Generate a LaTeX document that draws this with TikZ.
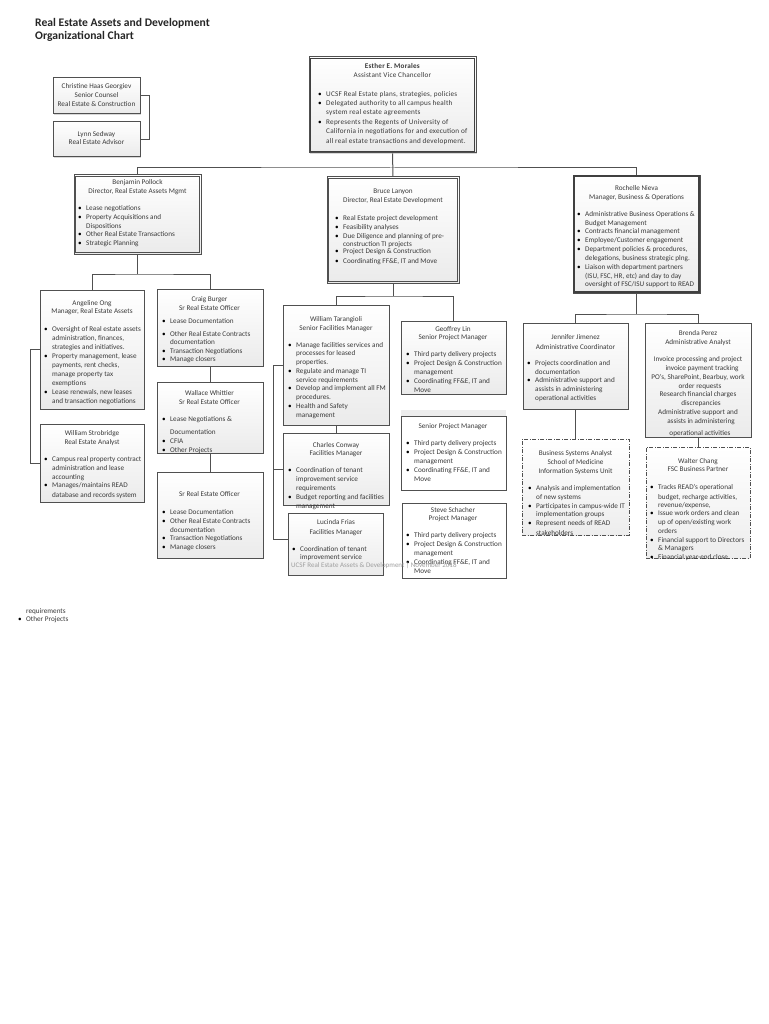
\documentclass[tikz,border=0pt]{standalone}
\usepackage{fontspec}
\setmainfont{Carlito}
\newfontfamily\widefont[LetterSpace=3]{Carlito}
\usetikzlibrary{shadows}
\definecolor{ink}{HTML}{3A3A3A}
\definecolor{edge}{HTML}{505050}
\tikzset{
  x=1pt,y=-1pt,
  orgbox/.style={draw=edge,line width=1pt,top color=white,bottom color=black!8,inner sep=0pt,
     drop shadow={shadow xshift=1pt,shadow yshift=-1pt,fill=black!25,opacity=.6}},
  paleface/.style={draw=edge,line width=1pt,fill=white,inner sep=0pt},
  innerframe/.style={draw=edge,line width=1pt},
  heavyframe/.style={draw=black!75,line width=1.7pt},
  thinbox/.style={orgbox,line width=.6pt},
  dashbox/.style={draw=edge,line width=1pt,top color=white,bottom color=black!7,inner sep=0pt,
     dash pattern=on 4pt off 1.5pt on 1pt off 1.5pt},
  conn/.style={draw=edge,line width=1pt},
  linetext/.style={inner sep=0pt,text=ink,font=\fontsize{7.2}{9}\selectfont,execute at begin node={\rule{0pt}{5pt}}},
  hdtext/.style={linetext,align=center,anchor=north},
  bodytext/.style={linetext,align=left,anchor=north west},
  titletext/.style={inner sep=0pt,anchor=north west,align=left,text=black!85,font=\fontsize{11.6}{13}\bfseries\selectfont},
  foottext/.style={inner sep=0pt,anchor=west,text=black!38,font=\fontsize{7}{8}\selectfont},
}
\newcommand\obox[6]{\node[#2,minimum width=#5-#3,minimum height=#6-#4] (#1) at ({(#3+#5)/2},{(#4+#6)/2}) {};}
\newcommand\hd[4]{\node[hdtext] (#1) at (#2,#3-3) {#4};}
\newcommand\bd[4]{\node[bodytext] (#1) at (#2,#3-3) {#4};}
\newcommand\bl{\leavevmode\llap{\textcolor{black}{\textbullet}\hspace{4.6pt}}}
\newcommand\inframe[3]{\draw[#2] ([shift={(#3,#3)}]#1.north west) rectangle ([shift={(-#3,-#3)}]#1.south east);}
\begin{document}
\begin{tikzpicture}
\useasboundingbox (0,0) rectangle (768,1024);
\fill[white] (0,0) rectangle (768,1024);
\node[titletext] (title) at (35,18) {Real Estate Assets and Development\\Organizational Chart};

% boxes
\obox{esther}{orgbox}{309}{57}{476}{153}
\inframe{esther}{heavyframe}{2}
\obox{christine}{orgbox}{53}{78}{140}{114}
\obox{lynn}{orgbox}{53}{122}{140}{157}
\obox{benjamin}{orgbox}{74}{175}{201}{254}
\inframe{benjamin}{innerframe}{2}
\obox{bruce}{orgbox}{327}{177}{459}{283}
\inframe{bruce}{innerframe}{2}
\obox{rochelle}{thinbox}{573}{175}{700}{293}
\inframe{rochelle}{heavyframe}{1.5}
\obox{angeline}{orgbox}{40}{290}{144}{409}
\obox{strobridge}{orgbox}{40}{424}{144}{502}
\obox{craig}{orgbox}{157}{289}{263}{366}
\obox{wallace}{orgbox}{157}{382}{263}{453}
\obox{srofficer}{orgbox}{157}{472}{263}{558}
\obox{tarangioli}{orgbox}{283}{305}{389}{425}
\obox{charles}{orgbox}{283}{433}{389}{505}
\obox{lucinda}{orgbox}{288}{513}{383}{575}
\obox{geoffrey}{orgbox}{401}{321}{506}{394}
\fill[black!7] (401,410) rectangle (506,416);
\obox{seniorpm}{paleface}{401}{416}{506}{490}
\obox{steve}{paleface}{402}{503}{506}{578}
\obox{jennifer}{orgbox}{523}{323}{628}{409}
\obox{brenda}{orgbox}{645}{323}{751}{437}
\obox{bsa}{dashbox}{522}{439}{629}{535}
\obox{walter}{dashbox}{646}{447}{750}{558}

% connectors
\coordinate (busmid) at (392.5,168);
\coordinate (hubb) at (137.5,274);
\coordinate (hubd) at (393,296);
\coordinate (hubr) at (636.5,314);
\draw[conn] (esther.south) -- (bruce.north);
\draw[conn] (benjamin.north) |- (busmid) -| (rochelle.north);
\draw[conn] (christine.east) -- ++(9,0) |- (lynn.east);
\draw[conn] (benjamin.south) -- (hubb);
\draw[conn] (angeline.north) |- (hubb) -| (craig.north);
\draw[conn] (craig.south) -- (wallace.north);
\draw[conn] (wallace.south) -- (srofficer.north);
\draw[conn] (angeline.west) -- ++(-9,0) |- (strobridge.west);
\draw[conn] (bruce.south) -- (hubd);
\draw[conn] (tarangioli.north) |- (hubd) -| (geoffrey.north);
\draw[conn] (tarangioli.south) -- (charles.north);
\draw[conn] (tarangioli.west) -- ++(-9,0) |- (charles.west);
\draw[conn] (tarangioli.west) ++(-9,0) |- ([yshift=5pt]lucinda.west);
\draw[conn] (rochelle.south) -- (hubr);
\draw[conn] (jennifer.north) |- (hubr) -| (brenda.north);
\draw[conn] (jennifer.south) -- (bsa.north);
\draw[conn] (brenda.south) -- (walter.north);

% texts
\node[hdtext,font=\widefont\fontsize{7.2}{9.5}\selectfont] (estherhd) at (392.5,63) {\textbf{Esther E. Morales}\\Assistant Vice Chancellor};
\node[bodytext,font=\widefont\fontsize{7.2}{9.4}\selectfont] (estherbd) at (326,91) {\bl UCSF Real Estate plans, strategies, policies\\
\bl Delegated authority to all campus health\\
system real estate agreements\\
\bl Represents the Regents of University of\\
California in negotiations for and execution of\\
all real estate transactions and development.};

\hd{christinehd}{96.5}{86}{Christine Haas Georgiev\\Senior Counsel\\Real Estate \& Construction}
\hd{lynnhd}{96.5}{134}{Lynn Sedway\\[-1pt]Real Estate Advisor}

\hd{benjaminhd}{137.5}{182}{Benjamin Pollock\\Director, Real Estate Assets Mgmt}
\bd{benjaminbd}{86}{208}{\bl Lease negotiations\\
\bl Property Acquisitions and\\
Dispositions\\[-1pt]
\bl Other Real Estate Transactions\\
\bl Strategic Planning}

\hd{brucehd}{393}{192}{Bruce Lanyon\\Director, Real Estate Development}
\bd{brucebd}{343}{218}{\bl Real Estate project development\\
\bl Feasibility analyses\\
\bl Due Diligence and planning of pre-\\[-1pt]
construction TI projects\\[-2pt]
\bl Project Design \& Construction\\[1pt]
\bl Coordinating FF\&E, IT and Move}

\hd{rochellehd}{636.5}{188}{Rochelle Nieva\\Manager, Business \& Operations}
\bd{rochellebd}{585}{214}{\bl Administrative Business Operations \&\\
Budget Management\\[-1pt]
\bl Contracts financial management\\
\bl Employee/Customer engagement\\
\bl Department policies \& procedures,\\
delegations, business strategic plng.\\
\bl Liaison with department partners\\
(ISU, FSC, HR, etc) and day to day\\[-1pt]
oversight of FSC/ISU support to READ}

\hd{angelinehd}{92}{303}{Angeline Ong\\[-1pt]Manager, Real Estate Assets}
\bd{angelinebd}{52}{329}{\bl Oversight of Real estate assets\\
administration, finances,\\
strategies and initiatives.\\
\bl Property management, lease\\
payments, rent checks,\\
manage property tax\\
exemptions\\
\bl Lease renewals, new leases\\
and transaction negotiations}

\hd{strobridgehd}{92}{433}{William Strobridge\\Real Estate Analyst}
\bd{strobridgebd}{52}{459}{\bl Campus real property contract\\
administration and lease\\
accounting\\[-1pt]
\bl Manages/maintains READ\\[1pt]
database and records system}

\hd{craighd}{209.5}{299}{Craig Burger\\Sr Real Estate Officer}
\bd{craigbd}{170}{321}{\bl Lease Documentation\\[4pt]
\bl Other Real Estate Contracts\\[-1pt]
documentation\\
\bl Transaction Negotiations\\[-1pt]
\bl Manage closers}

\hd{wallacehd}{209.5}{393}{Wallace Whittier\\Sr Real Estate Officer}
\bd{wallacebd}{170}{419}{\bl Lease Negotiations \&\\[4pt]
Documentation\\
\bl CFIA\\
\bl Other Projects}

\hd{srofficerhd}{209.5}{494}{Sr Real Estate Officer}
\bd{srofficerbd}{170}{512}{\bl Lease Documentation\\
\bl Other Real Estate Contracts\\
documentation\\[-1pt]
\bl Transaction Negotiations\\
\bl Manage closers}

\hd{tarangiolihd}{336}{319}{William Tarangioli\\Senior Facilities Manager}
\bd{tarangiolibd}{296}{345}{\bl Manage facilities services and\\[-1pt]
processes for leased\\
properties.\\
\bl Regulate and manage TI\\
service requirements\\[-1pt]
\bl Develop and implement all FM\\
procedures.\\
\bl Health and Safety\\
management}

\hd{charleshd}{336}{445}{Charles Conway\\[-1pt]Facilities Manager}
\bd{charlesbd}{296}{470}{\bl Coordination of tenant\\
improvement service\\
requirements\\
\bl Budget reporting and facilities\\
management}

\hd{lucindahd}{336}{522}{Lucinda Frias\\[1pt]Facilities Manager}
\bd{lucindabd}{300}{549}{\bl Coordination of tenant\\[-1pt]
improvement service}

\hd{geoffreyhd}{453}{329}{Geoffrey Lin\\[-1pt]Senior Project Manager}
\bd{geoffreybd}{414}{354}{\bl Third party delivery projects\\
\bl Project Design \& Construction\\
management\\
\bl Coordinating FF\&E, IT and\\
Move}

\hd{seniorpmhd}{453}{426}{Senior Project Manager}
\bd{seniorpmbd}{414}{443}{\bl Third party delivery projects\\
\bl Project Design \& Construction\\
management\\
\bl Coordinating FF\&E, IT and\\
Move}

\hd{stevehd}{453}{510}{Steve Schacher\\[-1pt]Project Manager}
\bd{stevebd}{414}{535}{\bl Third party delivery projects\\
\bl Project Design \& Construction\\
management\\
\bl Coordinating FF\&E, IT and\\
Move}

\hd{jenniferhd}{575.5}{337}{Jennifer Jimenez\\[1pt]Administrative Coordinator}
\bd{jenniferbd}{535}{363}{\bl Projects coordination and\\
documentation\\[-1pt]
\bl Administrative support and\\
assists in administering\\
operational activities}

\hd{brendahd}{698}{333}{Brenda Perez\\Administrative Analyst}
\hd{brendabd}{698}{359}{Invoice processing and project\\
\hspace*{8pt}invoice payment tracking\\
PO's, SharePoint, Bearbuy, work\\
\hspace*{4pt}order requests\\[-1pt]
Research financial charges\\
\hspace*{6pt}discrepancies\\
Administrative support and\\
\hspace*{6pt}assists in administering\\[3pt]
\hspace*{4pt}operational activities}

\hd{bsahd}{575.5}{453}{Business Systems Analyst\\School of Medicine\\Information Systems Unit}
\bd{bsabd}{536}{488}{\bl Analysis and implementation\\
of new systems\\
\bl Participates in campus-wide IT\\[-1pt]
implementation groups\\
\bl Represent needs of READ\\[1pt]
stakeholders}

\hd{walterhd}{698}{461}{Walter Chang\\[-1pt]FSC Business Partner}
\bd{walterbd}{658}{487}{\bl Tracks READ's operational\\[1pt]
budget, recharge activities,\\[-1pt]
revenue/expense,\\[-1pt]
\bl Issue work orders and clean\\
up of open/existing work\\
orders\\
\bl Financial support to Directors\\[-1pt]
\& Managers\\
\bl Financial year-end close}

\node[foottext] (footer) at (291,566) {UCSF Real Estate Assets \& Development | November 2018};
\bd{strayreq}{26}{611}{requirements\\[-1pt]\bl Other Projects}
\end{tikzpicture}
\end{document}
